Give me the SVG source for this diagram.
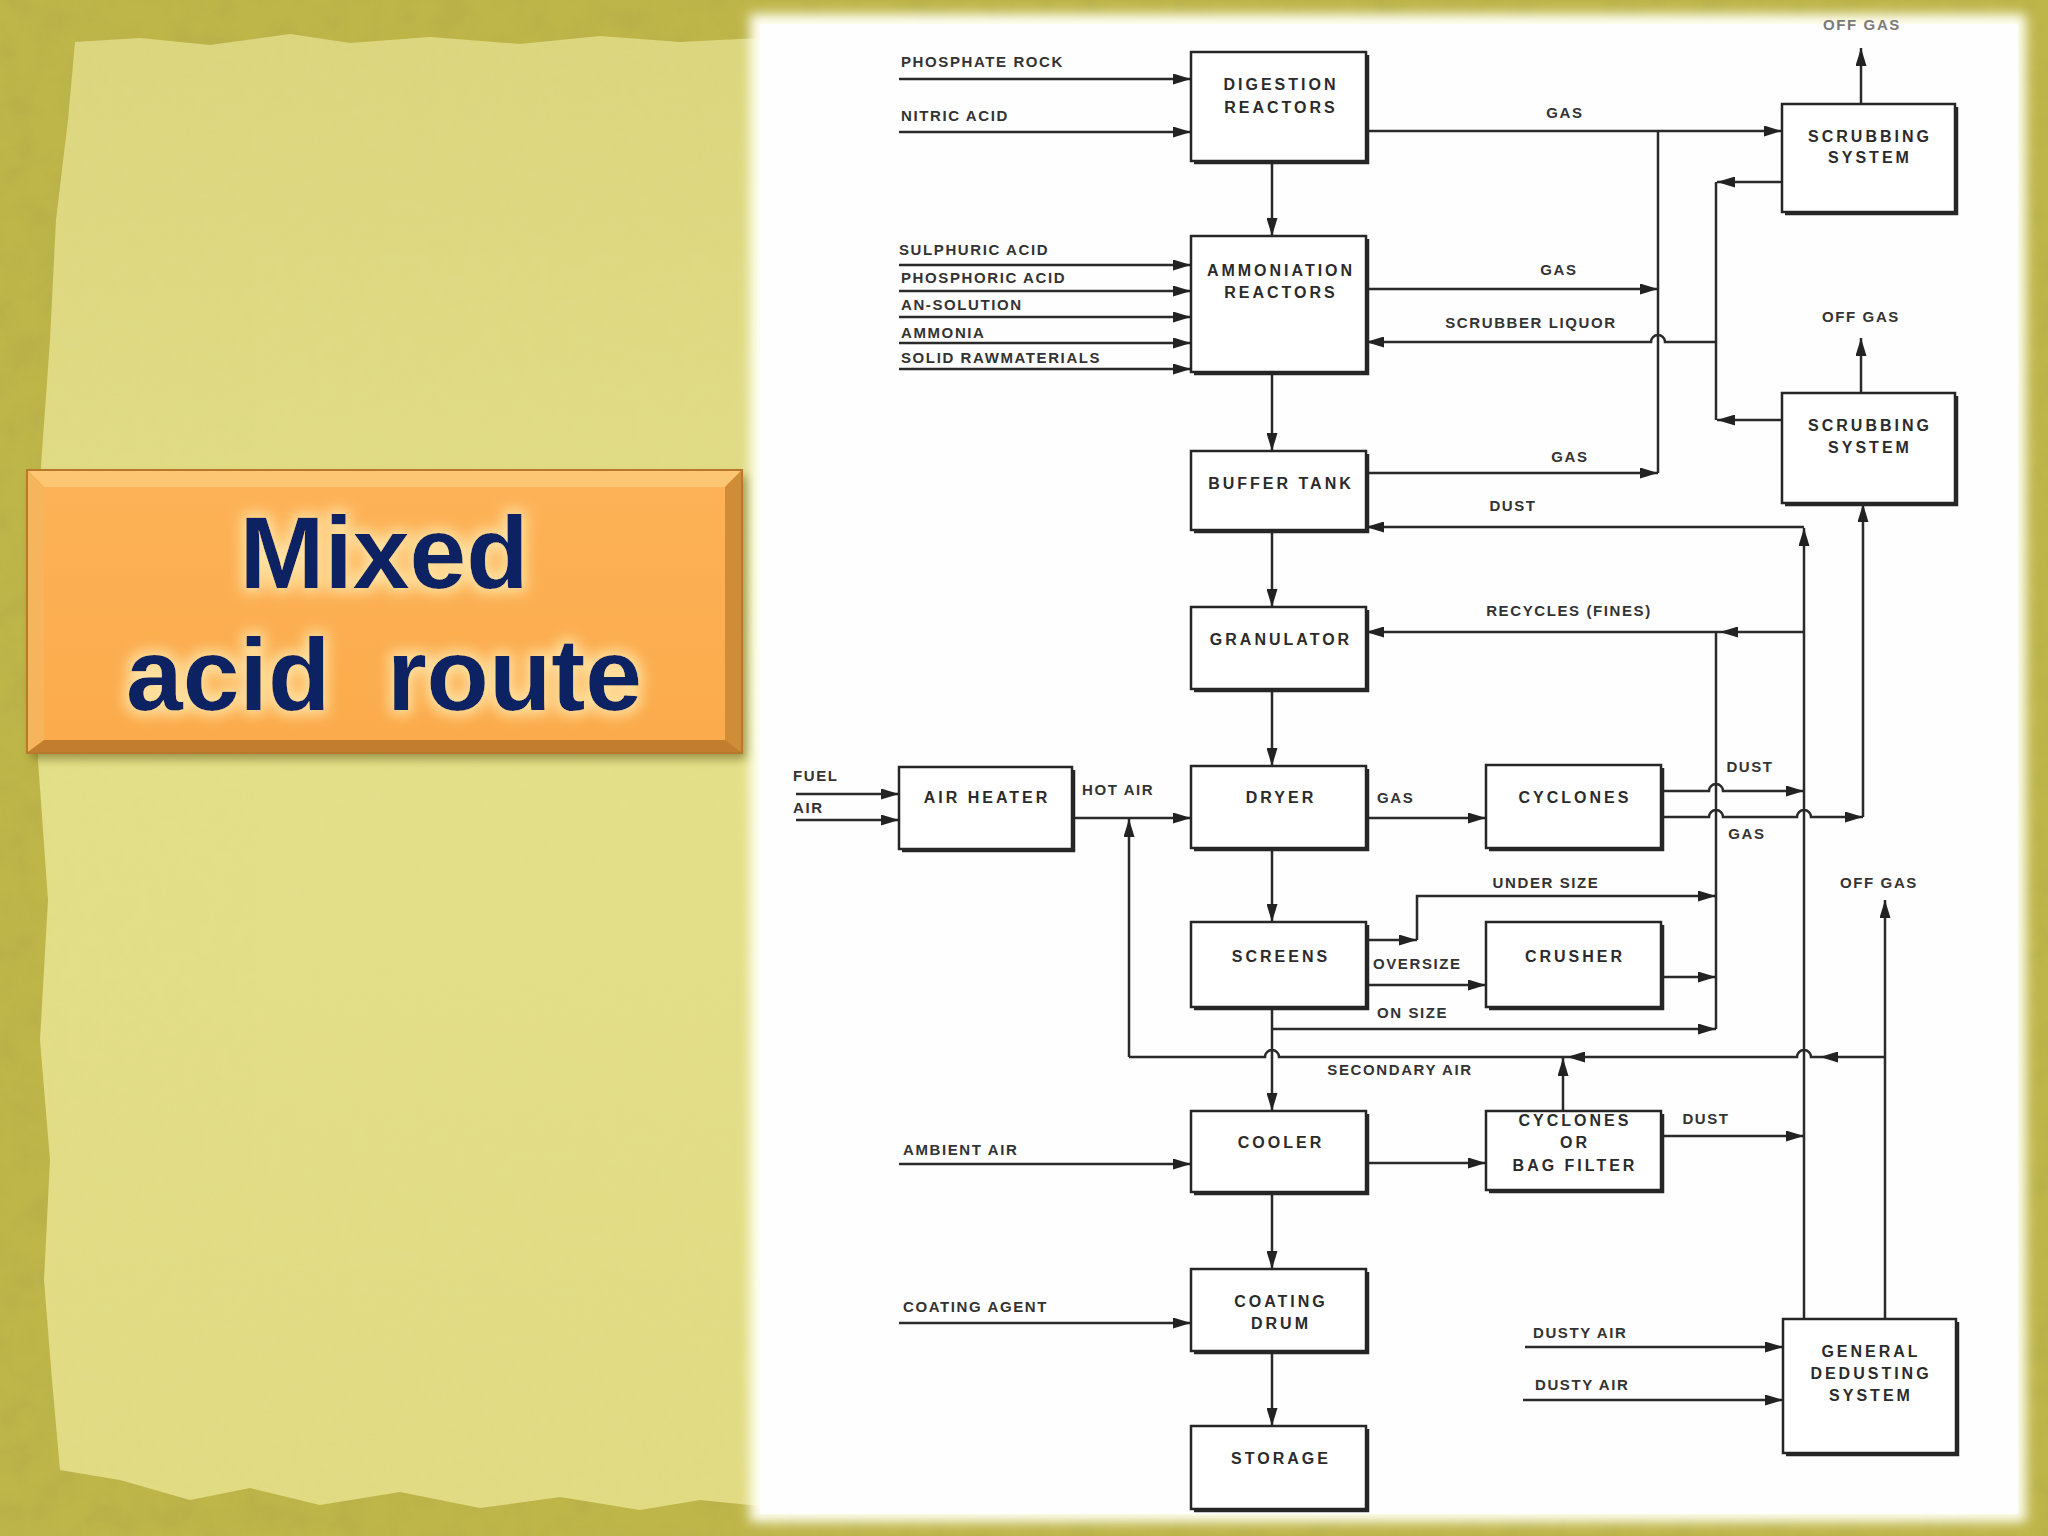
<svg xmlns="http://www.w3.org/2000/svg" width="2048" height="1536" viewBox="0 0 2048 1536">
<style>
.node rect{fill:#fff;stroke:#262626;stroke-width:2.5}
.node .sh{fill:none;stroke:#262626;stroke-width:3.5}
.node text{font-family:"Liberation Sans",Arial,sans-serif;font-weight:bold;font-size:16px;letter-spacing:3px;fill:#2b2b2b;text-anchor:middle}
.lbl{font-family:"Liberation Sans",Arial,sans-serif;font-weight:bold;font-size:15px;letter-spacing:1.6px;fill:#333}
.m{text-anchor:middle}
.faint{fill:#7a7a7a}
#connectors path{fill:none;stroke:#2a2a2a;stroke-width:2.5}
#connectors .a{marker-end:url(#ah)}
.title{font-family:"Liberation Sans",Arial,sans-serif;font-weight:bold;font-size:102px;fill:#0c2462;text-anchor:middle;white-space:pre}
</style>
<defs>
<marker id="ah" viewBox="0 0 18 11" refX="18" refY="5.5" markerWidth="18" markerHeight="11" markerUnits="userSpaceOnUse" orient="auto">
<path d="M0,0 L18,5.5 L0,11 z" fill="#222"/>
</marker>
<filter id="noise" x="0" y="0" width="100%" height="100%">
<feTurbulence type="fractalNoise" baseFrequency="0.03" numOctaves="4" seed="7"/>
<feColorMatrix type="matrix" values="0 0 0 0 0.40  0 0 0 0 0.38  0 0 0 0 0.06  0 0 0 1.3 -0.5"/>
</filter>
<filter id="fine" x="0" y="0" width="100%" height="100%">
<feTurbulence type="fractalNoise" baseFrequency="0.06" numOctaves="3" seed="11"/>
<feColorMatrix type="matrix" values="0 0 0 0 0.75  0 0 0 0 0.72  0 0 0 0 0.35  0 0 0 1.2 -0.5"/>
</filter>
<clipPath id="parchClip">
<path d="M75,42 L140,38 L210,45 L290,34 L350,43 L430,37 L520,44 L600,36 L680,42 L760,38 L760,1506 L700,1500 L640,1510 L560,1497 L480,1508 L400,1492 L320,1505 L250,1488 L190,1500 L120,1480 L60,1470 L52,1380 L44,1280 L50,1160 L40,1040 L48,900 L38,760 L46,620 L40,480 L50,340 L56,220 L68,120 Z"/>
</clipPath>
<filter id="soft" x="-5%" y="-5%" width="110%" height="110%">
<feGaussianBlur stdDeviation="6"/>
</filter>
<filter id="shadow" x="-10%" y="-20%" width="120%" height="140%">
<feGaussianBlur stdDeviation="5"/>
</filter>
<filter id="glow" x="-10%" y="-25%" width="120%" height="150%">
<feMorphology in="SourceAlpha" operator="dilate" radius="4" result="d"/>
<feGaussianBlur in="d" stdDeviation="7" result="b"/>
<feFlood flood-color="#ffe2a2" result="f"/>
<feComposite in="f" in2="b" operator="in" result="g"/>
<feMerge><feMergeNode in="g"/><feMergeNode in="SourceGraphic"/></feMerge>
</filter>
<linearGradient id="parch" x1="0" y1="0" x2="0" y2="1">
<stop offset="0" stop-color="#dcd67e"/>
<stop offset="0.5" stop-color="#e3df88"/>
<stop offset="1" stop-color="#e1db83"/>
</linearGradient>
<linearGradient id="face" x1="0" y1="0" x2="0" y2="1">
<stop offset="0" stop-color="#fdb257"/>
<stop offset="1" stop-color="#fbab4b"/>
</linearGradient>
</defs>

<!-- background -->
<rect x="0" y="0" width="2048" height="1536" fill="#bfb64a"/>
<rect x="0" y="0" width="2048" height="1536" filter="url(#noise)" opacity="0.5"/>
<path d="M75,42 L140,38 L210,45 L290,34 L350,43 L430,37 L520,44 L600,36 L680,42 L760,38 L760,1506 L700,1500 L640,1510 L560,1497 L480,1508 L400,1492 L320,1505 L250,1488 L190,1500 L120,1480 L60,1470 L52,1380 L44,1280 L50,1160 L40,1040 L48,900 L38,760 L46,620 L40,480 L50,340 L56,220 L68,120 Z" fill="url(#parch)"/>
<g clip-path="url(#parchClip)">
<rect x="0" y="0" width="800" height="1536" filter="url(#fine)" opacity="0.18"/>
</g>

<!-- white panel -->
<rect x="750" y="14" width="1276" height="1508" fill="#fffff2" filter="url(#soft)"/>
<rect x="760" y="24" width="1258" height="1490" fill="#fefefe"/>

<!-- title box -->
<g id="title">
<rect x="31" y="476" width="715" height="283" fill="#5e5818" opacity="0.55" filter="url(#shadow)"/>
<rect x="27" y="470" width="715" height="283" fill="#e89a3c" stroke="#b9782c" stroke-width="2"/>
<polygon points="28,471 741,471 725,487 44,487" fill="#fcc673"/>
<polygon points="28,471 44,487 44,740 28,752" fill="#f6b45c"/>
<polygon points="741,471 741,752 725,740 725,487" fill="#d18c37"/>
<polygon points="28,752 741,752 725,740 44,740" fill="#c27e2e"/>
<rect x="44" y="487" width="681" height="253" fill="url(#face)"/>
<g filter="url(#glow)">
<text class="title" x="384" y="588">Mixed</text>
<text class="title" x="384" y="710">acid  route</text>
</g>
</g>

<!-- connectors -->
<g id="connectors">
<path class="a" d="M899,79 H1191"/>
<path class="a" d="M899,132 H1191"/>
<path class="a" d="M1272,161 V236"/>
<path class="a" d="M899,265 H1191"/>
<path class="a" d="M899,291 H1191"/>
<path class="a" d="M899,317 H1191"/>
<path class="a" d="M899,343 H1191"/>
<path class="a" d="M899,369 H1191"/>
<path class="a" d="M1366,131 H1782"/>
<path d="M1658,131 V473"/>
<path class="a" d="M1366,289 H1658"/>
<path class="a" d="M1366,473 H1658"/>
<path class="a" d="M1716,342 H1665 A7,7 0 0 0 1651,342 H1366"/>
<path class="a" d="M1782,182 H1717"/>
<path d="M1716,182 V420"/>
<path class="a" d="M1782,420 H1717"/>
<path class="a" d="M1861,104 V48"/>
<path class="a" d="M1861,393 V338"/>
<path class="a" d="M1272,372 V451"/>
<path class="a" d="M1804,1319 V528"/>
<path class="a" d="M1804,527 H1366"/>
<path class="a" d="M1863,817 V504"/>
<path class="a" d="M1272,530 V607"/>
<path class="a" d="M1804,632 H1720"/>
<path class="a" d="M1720,632 H1366"/>
<path d="M1716,632 V1029"/>
<path class="a" d="M1272,690 V766"/>
<path class="a" d="M796,794 H899"/>
<path class="a" d="M796,820 H899"/>
<path class="a" d="M1072,818 H1191"/>
<path class="a" d="M1129,1057 V819"/>
<path class="a" d="M1366,818 H1486"/>
<path class="a" d="M1661,791 H1709 A7,7 0 0 1 1723,791 H1804"/>
<path class="a" d="M1661,817 H1709 A7,7 0 0 1 1723,817 H1797 A7,7 0 0 1 1811,817 H1863"/>
<path class="a" d="M1272,849 V922"/>
<path class="a" d="M1272,1007 V1111"/>
<path class="a" d="M1366,940 H1417"/>
<path class="a" d="M1417,940 V896 H1716"/>
<path class="a" d="M1366,985 H1486"/>
<path class="a" d="M1661,977 H1716"/>
<path class="a" d="M1272,1029 H1716"/>
<path class="a" d="M1885,1057 H1820"/>
<path class="a" d="M1820,1057 H1811 A7,7 0 0 0 1797,1057 H1567"/>
<path d="M1567,1057 H1279 A7,7 0 0 0 1265,1057 H1129"/>
<path class="a" d="M1563,1111 V1058"/>
<path class="a" d="M1366,1163 H1486"/>
<path class="a" d="M1661,1136 H1804"/>
<path class="a" d="M1885,1319 V900"/>
<path class="a" d="M899,1164 H1191"/>
<path class="a" d="M1272,1192 V1269"/>
<path class="a" d="M899,1323 H1191"/>
<path class="a" d="M1272,1351 V1426"/>
<path class="a" d="M1525,1347 H1783"/>
<path class="a" d="M1523,1400 H1783"/>
</g>

<!-- connector labels -->
<g id="labels">
<text class="lbl" x="901" y="67">PHOSPHATE ROCK</text>
<text class="lbl" x="901" y="121">NITRIC ACID</text>
<text class="lbl" x="899" y="255">SULPHURIC ACID</text>
<text class="lbl" x="901" y="283">PHOSPHORIC ACID</text>
<text class="lbl" x="901" y="310">AN-SOLUTION</text>
<text class="lbl" x="901" y="338">AMMONIA</text>
<text class="lbl" x="901" y="363">SOLID RAWMATERIALS</text>
<text class="lbl m" x="1565" y="118">GAS</text>
<text class="lbl m" x="1559" y="275">GAS</text>
<text class="lbl m" x="1531" y="328">SCRUBBER LIQUOR</text>
<text class="lbl m faint" x="1862" y="30">OFF GAS</text>
<text class="lbl m" x="1861" y="322">OFF GAS</text>
<text class="lbl m" x="1570" y="462">GAS</text>
<text class="lbl m" x="1513" y="511">DUST</text>
<text class="lbl m" x="1569" y="616">RECYCLES (FINES)</text>
<text class="lbl" x="793" y="781">FUEL</text>
<text class="lbl" x="793" y="813">AIR</text>
<text class="lbl" x="1082" y="795">HOT AIR</text>
<text class="lbl" x="1377" y="803">GAS</text>
<text class="lbl m" x="1750" y="772">DUST</text>
<text class="lbl m" x="1747" y="839">GAS</text>
<text class="lbl m" x="1546" y="888">UNDER SIZE</text>
<text class="lbl m" x="1879" y="888">OFF GAS</text>
<text class="lbl" x="1373" y="969">OVERSIZE</text>
<text class="lbl" x="1377" y="1018">ON SIZE</text>
<text class="lbl m" x="1400" y="1075">SECONDARY AIR</text>
<text class="lbl m" x="1706" y="1124">DUST</text>
<text class="lbl" x="903" y="1155">AMBIENT AIR</text>
<text class="lbl" x="903" y="1312">COATING AGENT</text>
<text class="lbl" x="1533" y="1338">DUSTY AIR</text>
<text class="lbl" x="1535" y="1390">DUSTY AIR</text>
</g>

<!-- nodes -->
<g id="digestion" class="node">
<rect x="1191" y="52" width="175" height="109"/>
<path class="sh" d="M1367.5,55 V162.5 H1194"/>
<text x="1281" y="90">DIGESTION</text>
<text x="1281" y="113">REACTORS</text>
</g>
<g id="ammoniation" class="node">
<rect x="1191" y="236" width="175" height="136"/>
<path class="sh" d="M1367.5,239 V373.5 H1194"/>
<text x="1281" y="276">AMMONIATION</text>
<text x="1281" y="298">REACTORS</text>
</g>
<g id="buffer-tank" class="node">
<rect x="1191" y="451" width="175" height="79"/>
<path class="sh" d="M1367.5,454 V531.5 H1194"/>
<text x="1281" y="489">BUFFER TANK</text>
</g>
<g id="granulator" class="node">
<rect x="1191" y="607" width="175" height="82"/>
<path class="sh" d="M1367.5,610 V690.5 H1194"/>
<text x="1281" y="645">GRANULATOR</text>
</g>
<g id="dryer" class="node">
<rect x="1191" y="766" width="175" height="82"/>
<path class="sh" d="M1367.5,769 V849.5 H1194"/>
<text x="1281" y="803">DRYER</text>
</g>
<g id="screens" class="node">
<rect x="1191" y="922" width="175" height="85"/>
<path class="sh" d="M1367.5,925 V1008.5 H1194"/>
<text x="1281" y="962">SCREENS</text>
</g>
<g id="cooler" class="node">
<rect x="1191" y="1111" width="175" height="81"/>
<path class="sh" d="M1367.5,1114 V1193.5 H1194"/>
<text x="1281" y="1148">COOLER</text>
</g>
<g id="coating-drum" class="node">
<rect x="1191" y="1269" width="175" height="82"/>
<path class="sh" d="M1367.5,1272 V1352.5 H1194"/>
<text x="1281" y="1307">COATING</text>
<text x="1281" y="1329">DRUM</text>
</g>
<g id="storage" class="node">
<rect x="1191" y="1426" width="175" height="83"/>
<path class="sh" d="M1367.5,1429 V1510.5 H1194"/>
<text x="1281" y="1464">STORAGE</text>
</g>
<g id="air-heater" class="node">
<rect x="899" y="767" width="173" height="82"/>
<path class="sh" d="M1073.5,770 V850.5 H902"/>
<text x="987" y="803">AIR HEATER</text>
</g>
<g id="cyclones" class="node">
<rect x="1486" y="765" width="175" height="83"/>
<path class="sh" d="M1662.5,768 V849.5 H1489"/>
<text x="1575" y="803">CYCLONES</text>
</g>
<g id="crusher" class="node">
<rect x="1486" y="922" width="175" height="85"/>
<path class="sh" d="M1662.5,925 V1008.5 H1489"/>
<text x="1575" y="962">CRUSHER</text>
</g>
<g id="cyclones-or-bag-filter" class="node">
<rect x="1486" y="1111" width="175" height="79"/>
<path class="sh" d="M1662.5,1114 V1191.5 H1489"/>
<text x="1575" y="1126">CYCLONES</text>
<text x="1575" y="1148">OR</text>
<text x="1575" y="1171">BAG FILTER</text>
</g>
<g id="scrubbing-system-1" class="node">
<rect x="1782" y="104" width="173" height="108"/>
<path class="sh" d="M1956.5,107 V213.5 H1785"/>
<text x="1870" y="142">SCRUBBING</text>
<text x="1870" y="163">SYSTEM</text>
</g>
<g id="scrubbing-system-2" class="node">
<rect x="1782" y="393" width="173" height="110"/>
<path class="sh" d="M1956.5,396 V504.5 H1785"/>
<text x="1870" y="431">SCRUBBING</text>
<text x="1870" y="453">SYSTEM</text>
</g>
<g id="general-dedusting-system" class="node">
<rect x="1783" y="1319" width="173" height="134"/>
<path class="sh" d="M1957.5,1322 V1454.5 H1786"/>
<text x="1871" y="1357">GENERAL</text>
<text x="1871" y="1379">DEDUSTING</text>
<text x="1871" y="1401">SYSTEM</text>
</g>
</svg>
